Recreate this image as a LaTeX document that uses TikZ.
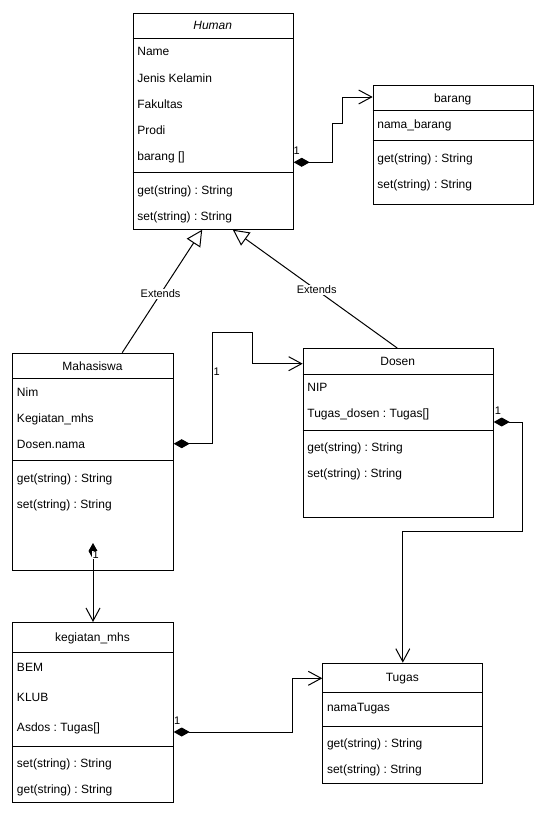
\documentclass[tikz,border=0pt]{standalone}
\usepackage{fontspec}
\setmainfont{Liberation Sans}
\usetikzlibrary{arrows.meta}
\frenchspacing

\tikzset{
  classbox/.style={draw, line width=1bp, fill=white, anchor=north west, inner sep=0pt},
  ctitle/.style={anchor=base, inner sep=0pt, font=\fontsize{12bp}{14bp}\selectfont},
  attr/.style={anchor=base west, inner sep=0pt, font=\fontsize{12bp}{14bp}\selectfont},
  mult/.style={anchor=base west, inner sep=0pt, font=\fontsize{11bp}{13bp}\selectfont},
  lbl/.style={fill=white, inner sep=1bp, font=\fontsize{11bp}{13bp}\selectfont},
  extends/.style={line width=1bp, -{Triangle[open,length=16bp,width=16bp]}},
  compose/.style={line width=1bp, {Diamond[length=16bp,width=9bp]}-{Straight Barb[length=13bp,width=14bp]}},
  sep/.style={line width=1bp},
}

\begin{document}
\begin{tikzpicture}[x=1bp,y=-1bp]
  \useasboundingbox (0,0) rectangle (553,818);

  % Human
  \node[classbox, minimum width=160bp, minimum height=216bp] (human) at (132.7,12.7) {};
  \node[ctitle] (htitle) at (212.7,30) {\itshape Human};
  \draw[sep] (132.7,38.7) -- (292.7,38.7);
  \node[attr] (h1) at (137.2,56) {Name};
  \node[attr] (h2) at (137.2,82) {Jenis Kelamin};
  \node[attr] (h3) at (137.2,108) {Fakultas};
  \node[attr] (h4) at (137.2,134) {Prodi};
  \node[attr] (h5) at (137.2,160) {barang []};
  \draw[sep] (132.7,172.7) -- (292.7,172.7);
  \node[attr] (h6) at (137.2,194) {get(string) : String};
  \node[attr] (h7) at (137.2,220) {set(string) : String};

  % barang
  \node[classbox, minimum width=160bp, minimum height=119.3bp] (barang) at (372.7,84.7) {};
  \node[ctitle] (btitle) at (452.7,102) {barang};
  \draw[sep] (372.7,110.7) -- (532.7,110.7);
  \node[attr] (b1) at (377.2,128) {nama\_barang};
  \draw[sep] (372.7,140.7) -- (532.7,140.7);
  \node[attr] (b2) at (377.2,162) {get(string) : String};
  \node[attr] (b3) at (377.2,188) {set(string) : String};

  % Mahasiswa
  \node[classbox, minimum width=160.4bp, minimum height=217.3bp] (mhs) at (12.3,352.7) {};
  \node[ctitle] (mtitle) at (92.5,370) {Mahasiswa};
  \draw[sep] (12.3,378.7) -- (172.7,378.7);
  \node[attr] (m1) at (16.8,396) {Nim};
  \node[attr] (m2) at (16.8,422) {Kegiatan\_mhs};
  \node[attr] (m3) at (16.8,448) {Dosen.nama};
  \draw[sep] (12.3,460.7) -- (172.7,460.7);
  \node[attr] (m4) at (16.8,482) {get(string) : String};
  \node[attr] (m5) at (16.8,508) {set(string) : String};

  % Dosen
  \node[classbox, minimum width=190bp, minimum height=169.3bp] (dosen) at (302.7,348) {};
  \node[ctitle] (dtitle) at (397.7,365.3) {Dosen};
  \draw[sep] (302.7,374) -- (492.7,374);
  \node[attr] (d1) at (307.2,391.3) {NIP};
  \node[attr] (d2) at (307.2,417.3) {Tugas\_dosen : Tugas[]};
  \draw[sep] (302.7,430) -- (492.7,430);
  \node[attr] (d3) at (307.2,451.3) {get(string) : String};
  \node[attr] (d4) at (307.2,477.3) {set(string) : String};

  % kegiatan_mhs
  \node[classbox, minimum width=160.4bp, minimum height=180.3bp] (kegmhs) at (12.3,622) {};
  \node[ctitle] (ktitle) at (92.5,641.3) {kegiatan\_mhs};
  \draw[sep] (12.3,652) -- (172.7,652);
  \node[attr] (k1) at (16.8,671.3) {BEM};
  \node[attr] (k2) at (16.8,701.3) {KLUB};
  \node[attr] (k3) at (16.8,731.3) {Asdos : Tugas[]};
  \draw[sep] (12.3,746) -- (172.7,746);
  \node[attr] (k4) at (16.8,767.3) {set(string) : String};
  \node[attr] (k5) at (16.8,793.3) {get(string) : String};

  % Tugas
  \node[classbox, minimum width=160bp, minimum height=120bp] (tugas) at (322.3,662.7) {};
  \node[ctitle] (ttitle) at (402.3,681.8) {Tugas};
  \draw[sep] (322.3,692.3) -- (482.3,692.3);
  \node[attr] (t1) at (326.8,711.6) {namaTugas};
  \draw[sep] (322.3,726.3) -- (482.3,726.3);
  \node[attr] (t2) at (326.8,747.6) {get(string) : String};
  \node[attr] (t3) at (326.8,773.6) {set(string) : String};

  % generalisation
  \draw[extends] ([xshift=29.2bp]mhs.north) -- ([xshift=-11bp]human.south)
    node[lbl, pos=0.48] (ext1) {Extends};
  \draw[extends] ([xshift=-1bp]dosen.north) -- ([xshift=19.6bp]human.south)
    node[lbl, pos=0.49] (ext2) {Extends};

  % composition
  \draw[compose] (human.east |- 0,162.3) -| (332,123) -| (342,97) -- (barang.west |- 0,97);
  \node[mult] (c1) at (293.3,154) {1};
  \draw[compose] (mhs.east |- 0,443.7) -| (212.3,332.7) -| (252.3,363.7) -- (dosen.west |- 0,363.7);
  \node[mult] (c2) at (213.3,375) {1};
  \draw[compose] (dosen.east |- 0,422) -| (522.7,531) -| (tugas.north);
  \node[mult] (c3) at (494.6,414) {1};
  \draw[compose] (mhs.south |- 0,543) -- (kegmhs.north);
  \node[lbl, inner sep=0.5bp] (c4) at (95.8,555) {1};
  \draw[compose] (kegmhs.east |- 0,732) -| (292.7,678.3) -- (tugas.west |- 0,678.3);
  \node[mult] (c5) at (174,724) {1};
\end{tikzpicture}
\end{document}
